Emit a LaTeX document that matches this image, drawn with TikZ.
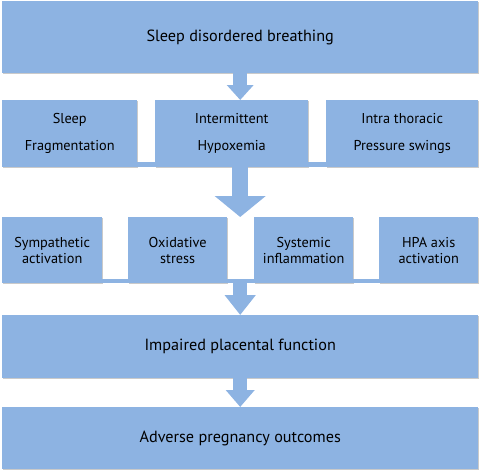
\documentclass[tikz,border=0pt]{standalone}
\usepackage{fontspec}
\setmainfont{PT Sans}
\usetikzlibrary{arrows.meta,shadows}
\definecolor{boxblue}{HTML}{8DB3E2}
\tikzset{
  box/.style={fill=boxblue, draw=none, inner sep=0pt, anchor=north west, align=center,
    drop shadow={shadow xshift=0.6pt, shadow yshift=-1.2pt, opacity=0.35, fill=black!60}},
  bridge/.style={fill=boxblue, draw=none, inner sep=0pt, anchor=north west},
  bigtext/.style={font=\fontsize{16.2}{19}\selectfont},
  midtext/.style={font=\fontsize{14.3}{27}\selectfont},
  smalltext/.style={font=\fontsize{14.3}{16}\selectfont},
  flowarrow/.style={draw=boxblue, line width=#1, line cap=butt}
}
\begin{document}
\begin{tikzpicture}[x=1pt,y=-1pt]
\useasboundingbox (0,0) rectangle (480,471);
% top
\node[box,bigtext,minimum width=476pt,minimum height=72pt] (sdb) at (2,1) {\raisebox{-6pt}{Sleep disordered breathing}};
% row 2
\node[box,midtext,minimum width=135pt,minimum height=67pt] (sf) at (2,100) {Sleep\\Fragmentation};
\node[box,midtext,minimum width=153pt,minimum height=67pt] (ih) at (155,100) {Intermittent\\Hypoxemia};
\node[box,midtext,minimum width=152pt,minimum height=67pt] (it) at (326,100) {Intra thoracic\\Pressure swings};
\node[bridge,minimum width=20pt,minimum height=5pt] (br2a) at (136,162) {};
\node[bridge,minimum width=20pt,minimum height=5pt] (br2b) at (307,162) {};
% row 3
\node[box,smalltext,minimum width=100pt,minimum height=66pt] (sa) at (2,217) {Sympathetic\\activation};
\node[box,smalltext,minimum width=99pt,minimum height=66pt] (os) at (128,217) {Oxidative\\stress};
\node[box,smalltext,minimum width=99pt,minimum height=66pt] (si) at (254,217) {Systemic\\inflammation};
\node[box,smalltext,minimum width=99pt,minimum height=66pt] (hpa) at (379,217) {HPA axis\\activation};
\node[bridge,minimum width=28pt,minimum height=4pt] (br3a) at (101,279) {};
\node[bridge,minimum width=28pt,minimum height=4pt] (br3b) at (226,279) {};
\node[bridge,minimum width=28pt,minimum height=4pt] (br3c) at (352,279) {};
% row 4, 5
\node[box,bigtext,minimum width=476pt,minimum height=63pt] (ipf) at (2,315) {Impaired placental function};
\node[box,bigtext,minimum width=476pt,minimum height=62pt] (apo) at (2,407) {Adverse pregnancy outcomes};
% arrows
\draw[flowarrow=14pt, -{Triangle[width=26pt,length=15pt]}] (sdb.south) -- (ih.north -| sdb.south);
\draw[flowarrow=16pt, -{Triangle[width=50pt,length=21pt]}] (ih.south -| sdb.south) -- (os.north -| sdb.south);
\draw[flowarrow=14pt, -{Triangle[width=30pt,length=20pt]}] (br3b.south -| sdb.south) -- (ipf.north);
\draw[flowarrow=14pt, -{Triangle[width=28pt,length=17pt]}] (ipf.south) -- (apo.north);
\end{tikzpicture}
\end{document}
